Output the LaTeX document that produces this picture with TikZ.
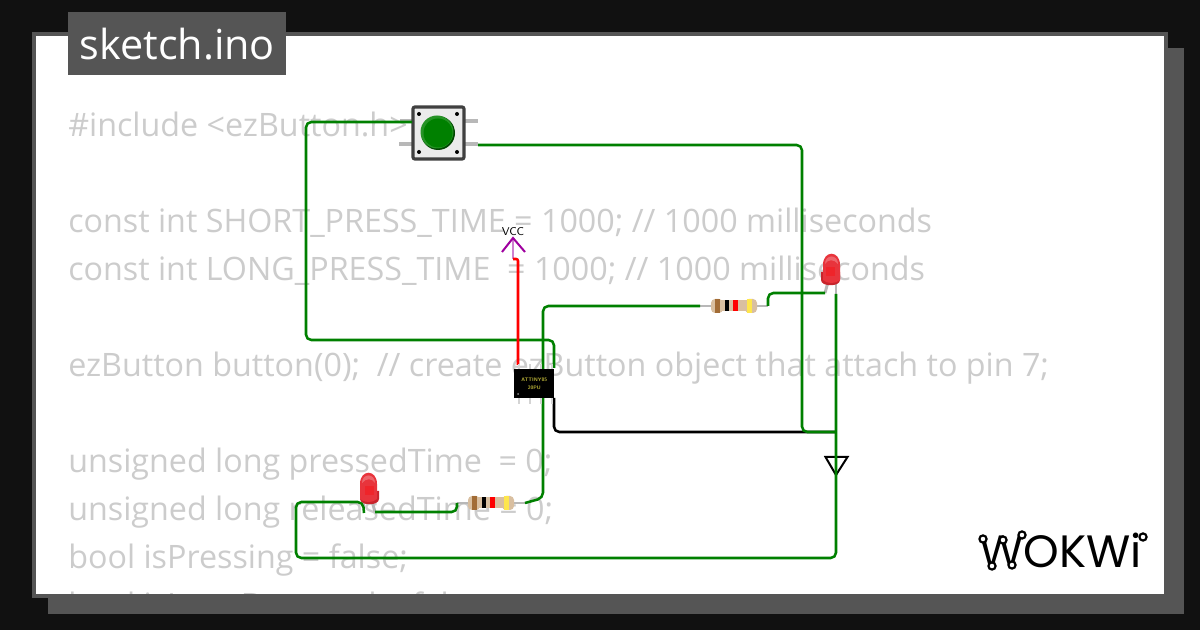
\documentclass[tikz,border=0pt]{standalone}
\usepackage{fontspec}
\setmainfont{Open Sans}
\newfontfamily\logofont{Poppins}
\usetikzlibrary{calc}
\usetikzlibrary{positioning}
\definecolor{frame}{HTML}{111111}
\definecolor{band}{HTML}{555555}
\definecolor{codegray}{HTML}{CCCCCC}
\definecolor{wiregreen}{HTML}{008000}
\definecolor{leadgray}{HTML}{B8B8B8}
\definecolor{ledred}{HTML}{E8343C}
\definecolor{ledflange}{HTML}{C8242C}
\definecolor{bodytan}{HTML}{D9BFA0}
\tikzset{
	wire/.style={draw=wiregreen,line width=1.9pt,rounded corners=4pt},
	lead/.style={draw=leadgray,line width=2.2pt},
	codeline/.style={text=codegray,anchor=base west,inner sep=0pt,font=\fontsize{24.2}{28}\selectfont},
	logodot/.style={draw=black,fill=white,line width=1.6pt},
	pics/resistor/.style={code={
		\draw[lead] (-34,0) coordinate (-left) -- (34,0) coordinate (-right);
		\fill[bodytan] (-20,-5.5) rectangle (20,5.5);
		\fill[bodytan,rounded corners=3pt] (-23,-7) rectangle (-11,7);
		\fill[bodytan,rounded corners=3pt] (11,-7) rectangle (23,7);
		\fill[brown!85!black] (-19,-7) rectangle (-14,7);
		\fill[black] (-9,-5.5) rectangle (-5,5.5);
		\fill[red] (-1,-5.5) rectangle (4,5.5);
		\fill[yellow!80!orange!70] (13,-7) rectangle (18,7);
	}},
	pics/led/.style={code={
		\draw[lead] (-3,-2) -- (-6,9) coordinate (-anode);
		\draw[lead] (5,-2) -- (5,10) coordinate (-cathode);
		\fill[ledflange] (-10,-4) .. controls (-10,3) and (9,3) .. (9,-4) -- (9,-12) -- (-10,-12) -- cycle;
		\fill[ledred] (-8,-4) -- (-8,-19) .. controls (-8,-34) and (9,-34) .. (9,-19) -- (9,-4) .. controls (5,0) and (-4,0) .. (-8,-4) -- cycle;
		\fill[red!30!ledred] (-5,-17) -- (4,-17) -- (4,-8) -- (-5,-8) -- cycle;
		\fill[white,opacity=0.25] (-6,-20) .. controls (-6,-30) and (7,-30) .. (7,-20) .. controls (3,-25) and (-3,-25) .. (-6,-20) -- cycle;
	}}
}
\begin{document}
\begin{tikzpicture}[x=0.75pt,y=-0.75pt]
	\useasboundingbox (0,0) rectangle (1200,630);
	\fill[frame] (0,0) rectangle (1200,630);
	\fill[band] (48,48) rectangle (1184,614);
	\fill[band] (32,32) rectangle (1168,598);
	\fill[white] (36,36) rectangle (1164,594);
	
	% code behind the circuit
	\begin{scope}
		\clip (36,36) rectangle (1164,594);
		\foreach \ypos/\codetext [count=\i] in {137/{\#include <ezButton.h>},
			233/{const int SHORT\_PRESS\_TIME = 1000; // 1000 milliseconds},
			281/{const int LONG\_PRESS\_TIME ~= 1000; // 1000 milliseconds},
			377/{ezButton button(0); ~// create ezButton object that attach to pin 7;},
			473/{unsigned long pressedTime ~= 0;},
			521/{unsigned long releasedTime = 0;},
			569/{bool isPressing = false;},
			617/{bool isLongDetected = false;}} {
			\node[codeline] (code\i) at (68,\ypos) {\codetext};
		}
	\end{scope}
	
	% tab
	\node[fill=band,text=white,anchor=north west,minimum width=163.5pt,minimum height=47.25pt,inner sep=0pt,font=\fontsize{31}{34}\selectfont] (tab) at (68,12) {sketch.ino};
	
	% push button
	\foreach \xa/\xb/\ya [count=\i] in {400/412/121,465/478/121,399/412/144,465/478/144} {
		\draw[draw=leadgray,line width=3.4pt] (\xa,\ya) coordinate (pinb\i) -- (\xb,\ya);
	}
	\draw[draw=black!75,fill=black!8,line width=2.4pt,rounded corners=1.5pt] (413,107) rectangle (464,159);
	\foreach \xa/\ya in {419/114,457/114,419/152,457/152} {
		\fill[black] (\xa,\ya) circle[radius=2];
	}
	\fill[wiregreen!55!black] (438,133) circle[radius=17];
	\fill[wiregreen!85!white] (437,132) circle[radius=16.5];
	\fill[wiregreen] (438,133) circle[radius=14.5];
	\coordinate (btnleft) at (412,122);
	\coordinate (btnright) at (478,145);
	
	% parts on the board
	\pic (resa) at (734,306) {resistor};
	\pic (resb) at (491,503) {resistor};
	\pic (leda) at (831,284) {led};
	\pic[xscale=-1] (ledb) at (369,503) {led};
	
	% supply and ground
	\node[inner sep=0pt,font=\sffamily\fontsize{8.5}{10}\selectfont] (vcc) at (513,231.5) {VCC};
	\coordinate (vcctip) at (513,238);
	\coordinate (vccfoot) at (513,259);
	\draw[draw=violet!75!magenta!50,line width=1.8pt] (vcctip) -- (vccfoot);
	\draw[draw=violet!75!magenta,line width=1.5pt] (502,252) -- (vcctip) -- (525,252);
	\draw[draw=black,line width=1.5pt,line join=miter] (825.5,457) coordinate (gnda) -- (847.5,457) -- (836,475) coordinate (gndb) -- cycle;
	
	% wires
	\coordinate (chipgnd) at (554,398);
	\coordinate (chippwr) at (518,365);
	\coordinate (chippb) at (554,368);
	\coordinate (join) at (836,432);
	\draw[wire,draw=black] (chipgnd) |- (join);
	\draw[wire] (btnleft) -| (306,340) -| (chippb);
	\draw[wire] (btnright) -| (802,432) -- (join);
	\draw[wire,draw=red,rounded corners=1.5pt] (vccfoot) -| (chippwr);
	\draw[wire] (resa-left) -| (543,498) -- (resb-right);
	\draw[wire] (resa-right) |- (leda-anode);
	\draw[wire] (leda-cathode) |- (296,558) |- (363,502) -- (ledb-cathode);
	\draw[wire] (ledb-anode) -| (resb-left);
	
	% chip
	\foreach \xa in {519,530,541,552} {
		\draw[draw=leadgray!60,line width=1.6pt] (\xa,398) -- (\xa,404);
		\draw[draw=leadgray!60,line width=1.6pt] (\xa,369) -- (\xa,364);
	}
	\node[fill=black,text=yellow!70!black,anchor=north west,minimum width=30pt,minimum height=21.75pt,inner sep=0pt,align=center,font=\sffamily\bfseries\fontsize{3.8}{5.5}\selectfont] (chip) at (514,369) {ATTINY85\\20PU};
	\fill[black!45] (518,394) circle[radius=1];
	
	% logo
	\node[anchor=base west,inner sep=0pt,font=\logofont\fontsize{34}{36}\selectfont] (logo) at (979,568) {WOKWi};
	\foreach \xa/\ya in {983/539,992/566,1003/540,1012/565,1022/535,1143/537} {
		\draw[logodot] (\xa,\ya) circle[radius=3.6];
	}
\end{tikzpicture}
\end{document}
